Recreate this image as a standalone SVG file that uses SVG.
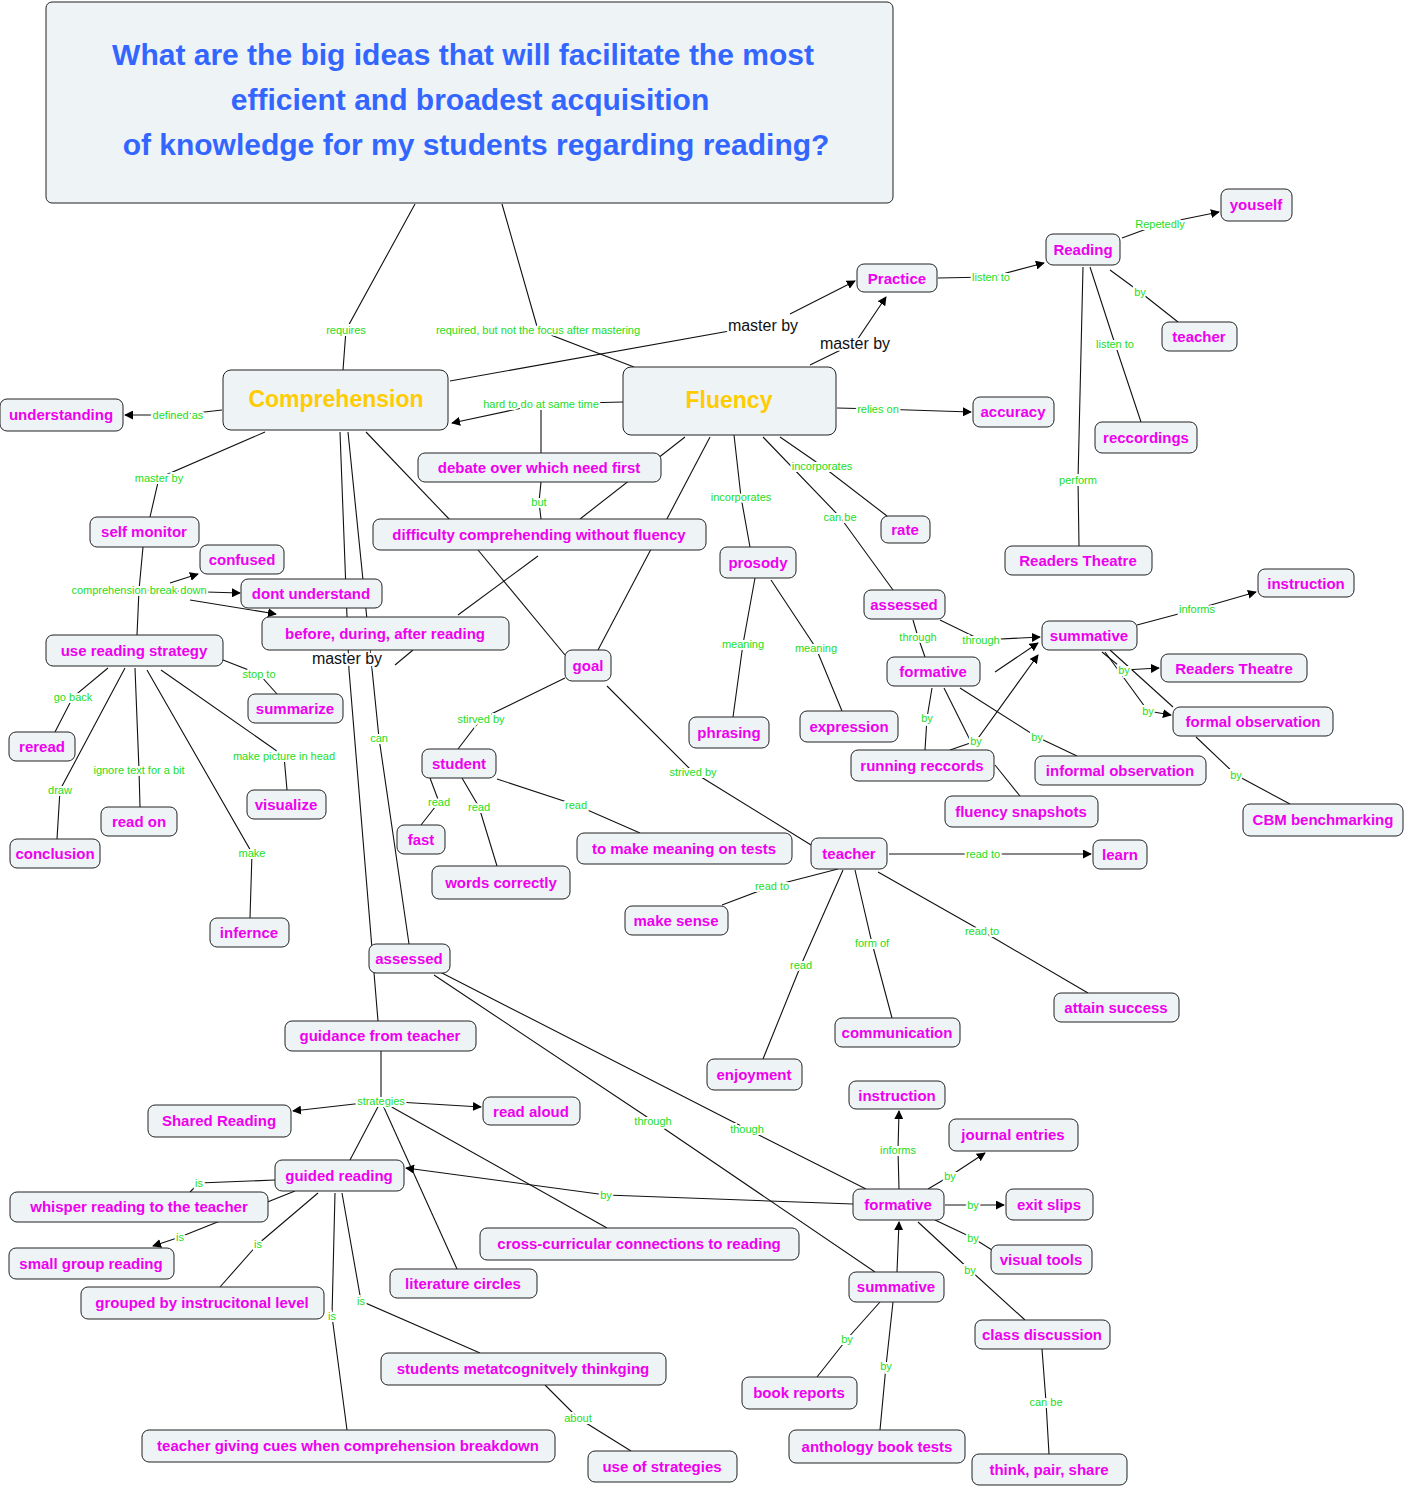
<svg xmlns="http://www.w3.org/2000/svg" width="1406" height="1489" viewBox="0 0 1406 1489">
<style>
.n rect{fill:#eef3f6;stroke:#222;stroke-width:1;}
.n text{font-family:"Liberation Sans",Arial,sans-serif;font-weight:bold;font-size:15px;fill:#ee00ee;text-anchor:middle;}
.c path,.c line{stroke:#111;stroke-width:1.1;fill:none;}
.l{font-family:"Liberation Sans",Arial,sans-serif;font-size:11px;fill:#22dd22;text-anchor:middle;stroke:#fff;stroke-width:4;paint-order:stroke;}
.lb{font-family:"Liberation Sans",Arial,sans-serif;font-size:16px;fill:#111;text-anchor:middle;stroke:#fff;stroke-width:4;paint-order:stroke;}
.a{marker-end:url(#ar);}
</style>
<defs><marker id="ar" viewBox="0 0 10 10" refX="9" refY="5" markerWidth="9" markerHeight="9" markerUnits="userSpaceOnUse" orient="auto"><path d="M0,0 L10,5 L0,10 z" fill="#000"/></marker></defs>
<rect width="1406" height="1489" fill="#fff"/>
<g class="c">
<path d="M415,204 L346,330 L343,370"/>
<path d="M502,204 L538,330 L634,367"/>
<path d="M450,381 L763,325"/><path class="a" d="M790,314 L855,281"/>
<path class="a" d="M810,365 L855,343 L886,297"/>
<path class="a" d="M623,402 L541,404 L452,423"/>
<path d="M541,404 L541,453"/>
<path d="M541,482 L539,502 L541,519"/>
<path d="M685,437 L580,519"/>
<path d="M366,432 L450,520"/>
<path d="M478,550 L565,655"/>
<path d="M710,437 L598,650"/>
<path d="M538,556 L458,615"/><path d="M413,650 L395,665"/>
<path d="M340,432 L349,670 L378,1021"/>
<path d="M348,432 L379,738 L409,944"/>
<path class="a" d="M222,410 L178,415 L125,415"/>
<path d="M265,432 L159,478 L150,517"/>
<path d="M143,547 L139,590 L137,635"/>
<path class="a" d="M170,583 L198,574"/>
<path class="a" d="M139,590 L240,593"/>
<path class="a" d="M190,600 L276,614"/>
<path d="M223,660 L259,674 L277,694"/>
<path d="M108,668 L73,697 L55,732"/>
<path d="M125,668 L60,790 L57,839"/>
<path d="M135,668 L139,770 L140,807"/>
<path d="M161,670 L284,756 L287,790"/>
<path d="M147,670 L252,853 L250,918"/>
<path d="M565,678 L481,719 L458,749"/>
<path d="M607,686 L693,772 L811,845"/>
<path d="M430,778 L439,802 L421,825"/>
<path d="M462,778 L479,807 L497,866"/>
<path d="M497,779 L576,805 L640,833"/>
<path d="M838,869 L772,886 L722,905"/>
<path class="a" d="M889,854 L983,854 L1091,854"/>
<path d="M843,870 L801,965 L763,1059"/>
<path d="M855,870 L872,943 L892,1018"/>
<path d="M878,872 L982,931 L1088,993"/>
<path d="M734,435 L741,497 L750,547"/>
<path d="M780,437 L822,466 L887,516"/>
<path d="M763,437 L840,517 L893,590"/>
<path class="a" d="M837,408 L878,409 L971,412"/>
<path d="M755,578 L743,644 L733,717"/>
<path d="M771,580 L816,648 L842,711"/>
<path class="a" d="M938,278 L991,277 L1044,263"/>
<path class="a" d="M1122,238 L1160,224 L1219,212"/>
<path d="M1110,270 L1140,292 L1178,322"/>
<path d="M1090,267 L1115,344 L1141,422"/>
<path d="M1083,267 L1078,480 L1079,546"/>
<path d="M913,620 L918,637 L925,657"/>
<path class="a" d="M940,620 L981,640 L1040,637"/>
<path class="a" d="M995,672 L1038,643"/>
<path class="a" d="M950,750 L976,741 L1038,655"/>
<path d="M932,688 L927,718 L925,750"/>
<path d="M944,688 L970,740"/>
<path d="M960,688 L1037,737 L1077,756"/>
<path d="M995,765 L1020,796"/>
<path class="a" d="M1137,625 L1197,609 L1256,592"/>
<path class="a" d="M1102,652 L1124,670 L1159,668"/>
<path class="a" d="M1105,652 L1148,711 L1171,715"/>
<path d="M1110,650 L1173,707"/><path d="M1196,737 L1236,775 L1290,804"/>
<path d="M434,975 L653,1121 L875,1272"/>
<path d="M440,972 L747,1129 L866,1189"/>
<path d="M381,1051 L381,1101"/>
<path class="a" d="M381,1101 L293,1111"/>
<path class="a" d="M381,1101 L481,1107"/>
<path d="M381,1101 L350,1160"/>
<path d="M381,1101 L457,1269"/>
<path d="M381,1101 L607,1228"/>
<path d="M275,1180 L199,1183 L190,1192"/>
<path class="a" d="M295,1191 L180,1237 L153,1246"/>
<path d="M318,1193 L258,1244 L220,1287"/>
<path d="M342,1193 L361,1301 L480,1353"/>
<path d="M335,1193 L332,1316 L347,1430"/>
<path class="a" d="M853,1204 L606,1195 L406,1168"/>
<path d="M545,1385 L578,1418 L631,1451"/>
<path class="a" d="M899,1189 L898,1150 L899,1111"/>
<path class="a" d="M928,1189 L950,1176 L985,1153"/>
<path class="a" d="M945,1205 L973,1205 L1004,1205"/>
<path d="M935,1220 L973,1238 L992,1250"/>
<path d="M918,1222 L970,1270 L1025,1320"/>
<path class="a" d="M897,1272 L899,1222"/>
<path d="M880,1302 L847,1339 L817,1377"/>
<path d="M893,1302 L886,1366 L880,1430"/>
<path d="M1042,1349 L1046,1402 L1049,1454"/>
</g>
<g id="labels">
<text class="l" x="346" y="334">requires</text>
<text class="l" x="538" y="334">required, but not the focus after mastering</text>
<text class="lb" x="763" y="331">master by</text>
<text class="lb" x="855" y="349">master by</text>
<text class="l" x="541" y="408">hard to do at same time</text>
<text class="l" x="539" y="506">but</text>
<text class="lb" x="347" y="664">master by</text>
<text class="l" x="379" y="742">can</text>
<text class="l" x="178" y="419">defined as</text>
<text class="l" x="159" y="482">master by</text>
<text class="l" x="139" y="594">comprehension break down</text>
<text class="l" x="259" y="678">stop to</text>
<text class="l" x="73" y="701">go back</text>
<text class="l" x="60" y="794">draw</text>
<text class="l" x="139" y="774">ignore text for a bit</text>
<text class="l" x="284" y="760">make picture in head</text>
<text class="l" x="252" y="857">make</text>
<text class="l" x="481" y="723">stirved by</text>
<text class="l" x="693" y="776">strived by</text>
<text class="l" x="439" y="806">read</text>
<text class="l" x="479" y="811">read</text>
<text class="l" x="576" y="809">read</text>
<text class="l" x="772" y="890">read to</text>
<text class="l" x="983" y="858">read to</text>
<text class="l" x="801" y="969">read</text>
<text class="l" x="872" y="947">form of</text>
<text class="l" x="982" y="935">read to</text>
<text class="l" x="741" y="501">incorporates</text>
<text class="l" x="822" y="470">incorporates</text>
<text class="l" x="840" y="521">can be</text>
<text class="l" x="878" y="413">relies on</text>
<text class="l" x="743" y="648">meaning</text>
<text class="l" x="816" y="652">meaning</text>
<text class="l" x="991" y="281">listen to</text>
<text class="l" x="1160" y="228">Repetedly</text>
<text class="l" x="1140" y="296">by</text>
<text class="l" x="1115" y="348">listen to</text>
<text class="l" x="1078" y="484">perform</text>
<text class="l" x="918" y="641">through</text>
<text class="l" x="981" y="644">through</text>
<text class="l" x="976" y="745">by</text>
<text class="l" x="927" y="722">by</text>
<text class="l" x="1037" y="741">by</text>
<text class="l" x="1197" y="613">informs</text>
<text class="l" x="1124" y="674">by</text>
<text class="l" x="1148" y="715">by</text>
<text class="l" x="1236" y="779">by</text>
<text class="l" x="653" y="1125">through</text>
<text class="l" x="747" y="1133">though</text>
<text class="l" x="381" y="1105">strategies</text>
<text class="l" x="199" y="1187">is</text>
<text class="l" x="180" y="1241">is</text>
<text class="l" x="258" y="1248">is</text>
<text class="l" x="361" y="1305">is</text>
<text class="l" x="332" y="1320">is</text>
<text class="l" x="606" y="1199">by</text>
<text class="l" x="578" y="1422">about</text>
<text class="l" x="898" y="1154">informs</text>
<text class="l" x="950" y="1180">by</text>
<text class="l" x="973" y="1209">by</text>
<text class="l" x="973" y="1242">by</text>
<text class="l" x="970" y="1274">by</text>
<text class="l" x="847" y="1343">by</text>
<text class="l" x="886" y="1370">by</text>
<text class="l" x="1046" y="1406">can be</text>
</g>
<g id="title"><rect x="46" y="2" width="847" height="201" rx="6" fill="#eef3f6" stroke="#222"/>
<text font-family="Liberation Sans,Arial,sans-serif" font-weight="bold" font-size="30" fill="#3366ff" text-anchor="middle"><tspan x="463" y="65">What are the big ideas that will facilitate the most</tspan><tspan x="470" y="110">efficient and broadest acquisition</tspan><tspan x="476" y="155">of knowledge for my students regarding reading?</tspan></text></g>
<g id="comprehension" class="n"><rect x="223" y="370" width="225" height="60" rx="8"/><text x="336" y="407" style="font-size:23px;fill:#ffcc00">Comprehension</text></g>
<g id="fluency" class="n"><rect x="623" y="367" width="213" height="68" rx="8"/><text x="729" y="408" style="font-size:23px;fill:#ffcc00">Fluency</text></g>
<g class="n" id="n1"><rect x="0" y="399" width="123" height="32" rx="7"/><text x="61" y="420">understanding</text></g>
<g class="n" id="n2"><rect x="90" y="517" width="109" height="30" rx="7"/><text x="144" y="537">self monitor</text></g>
<g class="n" id="n3"><rect x="200" y="545" width="84" height="29" rx="7"/><text x="242" y="565">confused</text></g>
<g class="n" id="n4"><rect x="241" y="579" width="141" height="29" rx="7"/><text x="311" y="599">dont understand</text></g>
<g class="n" id="n5"><rect x="262" y="617" width="247" height="33" rx="7"/><text x="385" y="639">before, during, after reading</text></g>
<g class="n" id="n6"><rect x="46" y="635" width="177" height="31" rx="7"/><text x="134" y="656">use reading strategy</text></g>
<g class="n" id="n7"><rect x="248" y="694" width="95" height="29" rx="7"/><text x="295" y="714">summarize</text></g>
<g class="n" id="n8"><rect x="9" y="732" width="66" height="29" rx="7"/><text x="42" y="752">reread</text></g>
<g class="n" id="n9"><rect x="247" y="790" width="79" height="29" rx="7"/><text x="286" y="810">visualize</text></g>
<g class="n" id="n10"><rect x="101" y="807" width="76" height="29" rx="7"/><text x="139" y="827">read on</text></g>
<g class="n" id="n11"><rect x="10" y="839" width="90" height="29" rx="7"/><text x="55" y="859">conclusion</text></g>
<g class="n" id="n12"><rect x="210" y="918" width="79" height="29" rx="7"/><text x="249" y="938">infernce</text></g>
<g class="n" id="n13"><rect x="418" y="453" width="243" height="29" rx="7"/><text x="539" y="473">debate over which need first</text></g>
<g class="n" id="n14"><rect x="373" y="519" width="333" height="31" rx="7"/><text x="539" y="540">difficulty comprehending without fluency</text></g>
<g class="n" id="n15"><rect x="565" y="650" width="46" height="31" rx="7"/><text x="588" y="671">goal</text></g>
<g class="n" id="n16"><rect x="422" y="749" width="74" height="29" rx="7"/><text x="459" y="769">student</text></g>
<g class="n" id="n17"><rect x="397" y="825" width="48" height="29" rx="7"/><text x="421" y="845">fast</text></g>
<g class="n" id="n18"><rect x="432" y="866" width="138" height="33" rx="7"/><text x="501" y="888">words correctly</text></g>
<g class="n" id="n19"><rect x="577" y="833" width="215" height="31" rx="7"/><text x="684" y="854">to make meaning on tests</text></g>
<g class="n" id="n20"><rect x="811" y="838" width="76" height="31" rx="7"/><text x="849" y="859">teacher</text></g>
<g class="n" id="n21"><rect x="1093" y="840" width="54" height="29" rx="7"/><text x="1120" y="860">learn</text></g>
<g class="n" id="n22"><rect x="625" y="906" width="103" height="29" rx="7"/><text x="676" y="926">make sense</text></g>
<g class="n" id="n23"><rect x="707" y="1059" width="95" height="31" rx="7"/><text x="754" y="1080">enjoyment</text></g>
<g class="n" id="n24"><rect x="835" y="1018" width="125" height="29" rx="7"/><text x="897" y="1038">communication</text></g>
<g class="n" id="n25"><rect x="1054" y="993" width="125" height="29" rx="7"/><text x="1116" y="1013">attain success</text></g>
<g class="n" id="n26"><rect x="720" y="547" width="76" height="31" rx="7"/><text x="758" y="568">prosody</text></g>
<g class="n" id="n27"><rect x="689" y="717" width="80" height="31" rx="7"/><text x="729" y="738">phrasing</text></g>
<g class="n" id="n28"><rect x="800" y="711" width="98" height="31" rx="7"/><text x="849" y="732">expression</text></g>
<g class="n" id="n29"><rect x="881" y="516" width="49" height="27" rx="7"/><text x="905" y="535">rate</text></g>
<g class="n" id="n30"><rect x="973" y="397" width="81" height="30" rx="7"/><text x="1013" y="417">accuracy</text></g>
<g class="n" id="n31"><rect x="857" y="264" width="80" height="28" rx="7"/><text x="897" y="284">Practice</text></g>
<g class="n" id="n32"><rect x="1046" y="234" width="74" height="31" rx="7"/><text x="1083" y="255">Reading</text></g>
<g class="n" id="n33"><rect x="1221" y="189" width="71" height="32" rx="7"/><text x="1256" y="210">youself</text></g>
<g class="n" id="n34"><rect x="1162" y="322" width="75" height="29" rx="7"/><text x="1199" y="342">teacher</text></g>
<g class="n" id="n35"><rect x="1095" y="422" width="102" height="31" rx="7"/><text x="1146" y="443">reccordings</text></g>
<g class="n" id="n36"><rect x="1005" y="546" width="147" height="29" rx="7"/><text x="1078" y="566">Readers Theatre</text></g>
<g class="n" id="n37"><rect x="864" y="590" width="81" height="29" rx="7"/><text x="904" y="610">assessed</text></g>
<g class="n" id="n38"><rect x="887" y="657" width="93" height="29" rx="7"/><text x="933" y="677">formative</text></g>
<g class="n" id="n39"><rect x="1042" y="621" width="95" height="29" rx="7"/><text x="1089" y="641">summative</text></g>
<g class="n" id="n40"><rect x="1258" y="569" width="96" height="28" rx="7"/><text x="1306" y="589">instruction</text></g>
<g class="n" id="n41"><rect x="1161" y="654" width="146" height="28" rx="7"/><text x="1234" y="674">Readers Theatre</text></g>
<g class="n" id="n42"><rect x="1173" y="707" width="160" height="29" rx="7"/><text x="1253" y="727">formal observation</text></g>
<g class="n" id="n43"><rect x="851" y="750" width="143" height="31" rx="7"/><text x="922" y="771">running reccords</text></g>
<g class="n" id="n44"><rect x="1035" y="756" width="171" height="29" rx="7"/><text x="1120" y="776">informal observation</text></g>
<g class="n" id="n45"><rect x="945" y="796" width="153" height="31" rx="7"/><text x="1021" y="817">fluency snapshots</text></g>
<g class="n" id="n46"><rect x="1243" y="804" width="160" height="32" rx="7"/><text x="1323" y="825">CBM benchmarking</text></g>
<g class="n" id="n47"><rect x="369" y="944" width="81" height="29" rx="7"/><text x="409" y="964">assessed</text></g>
<g class="n" id="n48"><rect x="285" y="1021" width="191" height="30" rx="7"/><text x="380" y="1041">guidance from teacher</text></g>
<g class="n" id="n49"><rect x="148" y="1105" width="143" height="32" rx="7"/><text x="219" y="1126">Shared Reading</text></g>
<g class="n" id="n50"><rect x="483" y="1097" width="97" height="28" rx="7"/><text x="531" y="1117">read aloud</text></g>
<g class="n" id="n51"><rect x="275" y="1160" width="129" height="31" rx="7"/><text x="339" y="1181">guided reading</text></g>
<g class="n" id="n52"><rect x="10" y="1192" width="258" height="30" rx="7"/><text x="139" y="1212">whisper reading to the teacher</text></g>
<g class="n" id="n53"><rect x="9" y="1248" width="165" height="31" rx="7"/><text x="91" y="1269">small group reading</text></g>
<g class="n" id="n54"><rect x="81" y="1287" width="243" height="32" rx="7"/><text x="202" y="1308">grouped by instrucitonal level</text></g>
<g class="n" id="n55"><rect x="390" y="1269" width="147" height="29" rx="7"/><text x="463" y="1289">literature circles</text></g>
<g class="n" id="n56"><rect x="480" y="1228" width="319" height="32" rx="7"/><text x="639" y="1249">cross-curricular connections to reading</text></g>
<g class="n" id="n57"><rect x="381" y="1353" width="285" height="32" rx="7"/><text x="523" y="1374">students metatcognitvely thinkging</text></g>
<g class="n" id="n58"><rect x="142" y="1430" width="413" height="32" rx="7"/><text x="348" y="1451">teacher giving cues when comprehension breakdown</text></g>
<g class="n" id="n59"><rect x="588" y="1451" width="149" height="31" rx="7"/><text x="662" y="1472">use of strategies</text></g>
<g class="n" id="n60"><rect x="849" y="1081" width="96" height="28" rx="7"/><text x="897" y="1101">instruction</text></g>
<g class="n" id="n61"><rect x="949" y="1119" width="129" height="32" rx="7"/><text x="1013" y="1140">journal entries</text></g>
<g class="n" id="n62"><rect x="853" y="1189" width="91" height="31" rx="7"/><text x="898" y="1210">formative</text></g>
<g class="n" id="n63"><rect x="1006" y="1189" width="87" height="31" rx="7"/><text x="1049" y="1210">exit slips</text></g>
<g class="n" id="n64"><rect x="991" y="1245" width="101" height="29" rx="7"/><text x="1041" y="1265">visual tools</text></g>
<g class="n" id="n65"><rect x="849" y="1272" width="95" height="30" rx="7"/><text x="896" y="1292">summative</text></g>
<g class="n" id="n66"><rect x="975" y="1320" width="135" height="29" rx="7"/><text x="1042" y="1340">class discussion</text></g>
<g class="n" id="n67"><rect x="742" y="1377" width="115" height="32" rx="7"/><text x="799" y="1398">book reports</text></g>
<g class="n" id="n68"><rect x="789" y="1430" width="176" height="33" rx="7"/><text x="877" y="1452">anthology book tests</text></g>
<g class="n" id="n69"><rect x="972" y="1454" width="155" height="31" rx="7"/><text x="1049" y="1475">think, pair, share</text></g>
</svg>
